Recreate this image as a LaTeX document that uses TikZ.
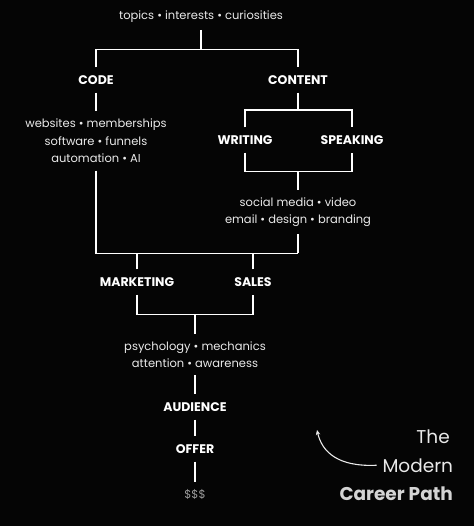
\documentclass[tikz,border=0pt]{standalone}
\usepackage{fontspec}
\setmainfont{Poppins}
\usetikzlibrary{arrows.meta}
\definecolor{bg}{HTML}{050505}
\definecolor{ink}{HTML}{EAEAEA}
\definecolor{dim}{HTML}{9A9A9A}
\definecolor{soft}{HTML}{D4D4D4}

\begin{document}
\begin{tikzpicture}[x=1pt, y=-1pt,
        item/.style={ink, align=center, inner ysep=7.5pt, font=\fontsize{11.5}{17.5}\selectfont},
        solo/.style={item, text height=8.5pt, text depth=2.5pt, inner ysep=7.25pt},
        head/.style={white, inner ysep=8pt, text height=9pt, text depth=0pt, font=\fontsize{12.5}{14}\selectfont\bfseries},
        wire/.style={white, line width=1.4pt},
        big/.style={anchor=base east, inner sep=0pt, font=\fontsize{18.5}{22}\selectfont}]
        \fill[bg] (0,0) rectangle (474,526);
        \node[solo] (top) at (201,17) {topics • interests • curiosities};
        \node[head] (code) at (96,80) {CODE};
        \node[head] (content) at (298,80) {CONTENT};
        \node[item] (codeuses) at (96,141) {websites • memberships\\software • funnels\\automation • AI};
        \node[head] (writing) at (245,140) {WRITING};
        \node[head] (speaking) at (352,140) {SPEAKING};
        \node[item] (contentuses) at (298,212) {social media • video\\email • design • branding};
        \node[head] (marketing) at (137,282) {MARKETING};
        \node[head] (sales) at (253,282) {SALES};
        \node[item] (levers) at (195,354.5) {psychology • mechanics\\attention • awareness};
        \node[head] (audience) at (195,407) {AUDIENCE};
        \node[head] (offer) at (195,449) {OFFER};
        \node[solo, dim] (money) at (195,495) {\$\$\$};
        \node[big, ink] (the) at (450,443) {The};
        \node[big, ink, inner xsep=6pt, outer sep=0pt] (modern) at (459,472) {Modern};
        \node[big, soft] (career) at (453,500) {\bfseries Career Path};
        \coordinate (tip) at (317,430);

        \draw[wire] (code.north) -- ++(0,-18) coordinate (bar1) -| (content.north);
        \draw[wire] (top.south) -- (top.south |- bar1);
        \draw[wire] (code.south) -- (codeuses.north);
        \draw[wire] (content.south) -- ++(0,17.5) coordinate (bar2);
        \draw[wire] (writing.north) |- (bar2) -| (speaking.north);
        \draw[wire] (contentuses.north) -- ++(0,-18) coordinate (bar3);
        \draw[wire] (writing.south) |- (bar3) -| (speaking.south);
        \draw[wire] (contentuses.south) -- ++(0,19) coordinate (bar4);
        \draw[wire] (codeuses.south) |- (bar4);
        \draw[wire] (marketing.north) -- (marketing.north |- bar4);
        \draw[wire] (sales.north) -- (sales.north |- bar4);
        \draw[wire] (levers.north) -- ++(0,-19) coordinate (bar5);
        \draw[wire] (marketing.south) |- (bar5) -| (sales.south);
        \draw[wire] (levers.south) -- (audience.north);
        \draw[wire] (audience.south) -- (offer.north);
        \draw[wire] (offer.south) -- (money.north);
        \draw[ink, line width=1.1pt, -{Stealth[length=5pt, width=4.5pt]}] (modern.west) .. controls (338,467) and (322,452) .. (tip);
\end{tikzpicture}
\end{document}
